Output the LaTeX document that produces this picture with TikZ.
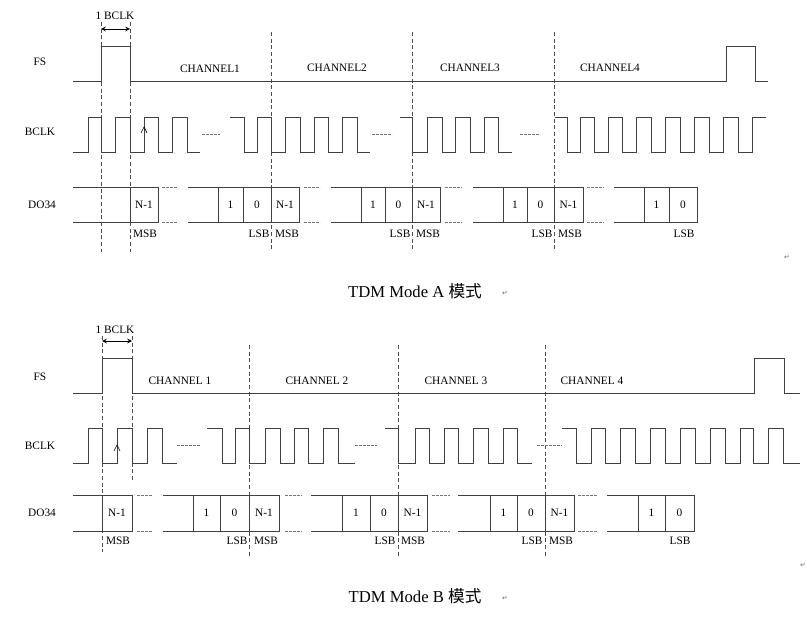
\documentclass[tikz,border=0pt]{standalone}
\usepackage{fontspec}
\setmainfont{Liberation Serif}
\newfontfamily\cjk{Noto Sans CJK SC}
\newfontfamily\djv{DejaVu Sans}
\begin{document}
\begin{tikzpicture}[x=0.75pt,y=-0.75pt,
  sig/.style={line width=0.6pt,black!75},
  vdash/.style={densely dashed,line width=0.5pt,black!70},
  gap/.style={dash pattern=on 2pt off 1pt,line width=0.5pt,black!55},
  lbl/.style={font=\fontsize{8.5}{9}\selectfont},
  ret/.style={font=\djv\fontsize{5}{5}\selectfont,black!60},
  captxt/.style={font=\fontsize{12.5}{14}\selectfont}]
\useasboundingbox (0,0) rectangle (807,620);
\newcommand\dbox[5]{\draw[sig] (#1,#3) rectangle (#2,#4); \node[lbl] at ({(#1+#2)/2},{(#3+#4)/2}) {#5};}
\newcommand\dline[4]{\draw[sig] (#1,#3)--(#2,#3) (#1,#4)--(#2,#4);}
\newcommand\dgap[4]{\draw[gap] (#1,#3)--(#2,#3) (#1,#4)--(#2,#4);}

% ================= MODE A =================
\node[lbl] (fsA) at (40,62) {FS};
\node[lbl] (bcA) at (40,132) {BCLK};
\node[lbl] (doA) at (42,205) {DO34};
\node[lbl] (bkA) at (115,16) {1 BCLK};
\coordinate (a1) at (101,29); \coordinate (a2) at (130,29);
\draw[<->,>=stealth,line width=0.6pt] (a1)--(a2);
\foreach \x in {101,130} \draw[vdash] (\x,22)--(\x,252);
\foreach \x in {271,412,554} \draw[vdash] (\x,32)--(\x,250);
\draw[sig] (73,81)--(101,81)--(101,46)--(130,46)--(130,81)--(726,81)--(726,46)--(755,46)--(755,81)--(768,81);
\node[lbl] at (210,69) {CHANNEL1};
\node[lbl] at (337,68) {CHANNEL2};
\node[lbl] at (470,68) {CHANNEL3};
\node[lbl] at (610,68) {CHANNEL4};
% BCLK
\def\H{117}\def\L{152}
\draw[sig] (73,\L) foreach \r/\f in {88/101,115/130,144/158,172/187}{--(\r,\L)--(\r,\H)--(\f,\H)--(\f,\L)} --(200,\L);
\draw[sig] (230,\H)--(244,\H)--(244,\L) foreach \r/\f in {257/271,285/300,314/328,342/357}{--(\r,\L)--(\r,\H)--(\f,\H)--(\f,\L)} --(370,\L);
\draw[sig] (400,\H)--(412,\H)--(412,\L) foreach \r/\f in {427/442,455/470,484/498}{--(\r,\L)--(\r,\H)--(\f,\H)--(\f,\L)} --(512,\L);
\draw[sig] (555,\H)--(567,\H)--(567,\L) foreach \r/\f in {580/594,608/622,636/651,665/680,694/709,723/738}{--(\r,\L)--(\r,\H)--(\f,\H)--(\f,\L)} --(752,\L)--(752,\H)--(766,\H);
\foreach \a/\b in {202/220,372/392,520/540} \draw[gap] (\a,134)--(\b,134);
\draw[line width=0.5pt] (141,133)--(144,127)--(147,133);
% DO34
\def\T{187}\def\B{222}
\dline{73}{130}{\T}{\B}
\dbox{130}{158}{\T}{\B}{N-1}
\dgap{162}{178}{\T}{\B}
\dline{188}{218}{\T}{\B}
\dbox{218}{243}{\T}{\B}{1}\dbox{243}{271}{\T}{\B}{0}\dbox{271}{299}{\T}{\B}{N-1}
\dgap{304}{320}{\T}{\B}
\dline{331}{361}{\T}{\B}
\dbox{361}{385}{\T}{\B}{1}\dbox{385}{412}{\T}{\B}{0}\dbox{412}{440}{\T}{\B}{N-1}
\dgap{445}{462}{\T}{\B}
\dline{473}{503}{\T}{\B}
\dbox{503}{527}{\T}{\B}{1}\dbox{527}{554}{\T}{\B}{0}\dbox{554}{583}{\T}{\B}{N-1}
\dgap{587}{604}{\T}{\B}
\dline{614}{644}{\T}{\B}
\dbox{644}{669}{\T}{\B}{1}\dbox{669}{697}{\T}{\B}{0}
\foreach \x in {145,287,428,570} \node[lbl] at (\x,234) {MSB};
\foreach \x in {259,400,542,684} \node[lbl] at (\x,234) {LSB};
\node[captxt] (capA) at (415,291) {TDM Mode A {\cjk 模式}};
\node[ret] at (787,257) {↵};
\node[ret] at (505,293) {↵};

% ================= MODE B =================
\node[lbl] (fsB) at (40,377) {FS};
\node[lbl] (bcB) at (40,446) {BCLK};
\node[lbl] (doB) at (42,513) {DO34};
\node[lbl] (bkB) at (115,330) {1 BCLK};
\coordinate (b1) at (102,341); \coordinate (b2) at (132,341);
\draw[<->,>=stealth,line width=0.6pt] (b1)--(b2);
\draw[vdash] (102,336)--(102,552);
\draw[vdash] (132,336)--(132,480);
\foreach \x in {249,398,545} \draw[vdash] (\x,345)--(\x,556);
\draw[sig] (73,393)--(102,393)--(102,358)--(132,358)--(132,393)--(754,393)--(754,358)--(784,358)--(784,393)--(800,393);
\node[lbl] at (180,381) {CHANNEL 1};
\node[lbl] at (317,381) {CHANNEL 2};
\node[lbl] at (456,381) {CHANNEL 3};
\node[lbl] at (592,381) {CHANNEL 4};
\def\H{428}\def\L{463}
\draw[sig] (73,\L) foreach \r/\f in {88/102,117/132,147/162}{--(\r,\L)--(\r,\H)--(\f,\H)--(\f,\L)} --(177,\L);
\draw[sig] (207,\H)--(222,\H)--(222,\L) foreach \r/\f in {235/249,265/280,294/308,323/338}{--(\r,\L)--(\r,\H)--(\f,\H)--(\f,\L)} --(355,\L);
\draw[sig] (385,\H)--(398,\H)--(398,\L) foreach \r/\f in {415/429,444/458,473/488,503/517}{--(\r,\L)--(\r,\H)--(\f,\H)--(\f,\L)} --(532,\L);
\draw[sig] (562,\H)--(576,\H)--(576,\L) foreach \r/\f in {591/605,620/635,650/665,680/695,710/725,740/753,768/783}{--(\r,\L)--(\r,\H)--(\f,\H)--(\f,\L)} --(800,\L);
\foreach \a/\b in {177/200,355/377,537/562} \draw[gap] (\a,445)--(\b,445);
\draw[line width=0.5pt] (114,451)--(117,445)--(120,451);
\def\T{495}\def\B{531}
\dline{73}{102}{\T}{\B}
\dbox{102}{132}{\T}{\B}{N-1}
\dgap{137}{153}{\T}{\B}
\dline{163}{193}{\T}{\B}
\dbox{193}{220}{\T}{\B}{1}\dbox{220}{249}{\T}{\B}{0}\dbox{249}{279}{\T}{\B}{N-1}
\dgap{285}{302}{\T}{\B}
\dline{311}{342}{\T}{\B}
\dbox{342}{370}{\T}{\B}{1}\dbox{370}{398}{\T}{\B}{0}\dbox{398}{427}{\T}{\B}{N-1}
\dgap{432}{450}{\T}{\B}
\dline{458}{490}{\T}{\B}
\dbox{490}{517}{\T}{\B}{1}\dbox{517}{545}{\T}{\B}{0}\dbox{545}{574}{\T}{\B}{N-1}
\dgap{578}{597}{\T}{\B}
\dline{607}{638}{\T}{\B}
\dbox{638}{665}{\T}{\B}{1}\dbox{665}{694}{\T}{\B}{0}
\foreach \x in {118,266,413,561} \node[lbl] at (\x,541) {MSB};
\foreach \x in {237,385,532,680} \node[lbl] at (\x,541) {LSB};
\node[captxt] (capB) at (415,596) {TDM Mode B {\cjk 模式}};
\node[ret] at (803,565) {↵};
\node[ret] at (505,598) {↵};
\end{tikzpicture}
\end{document}
